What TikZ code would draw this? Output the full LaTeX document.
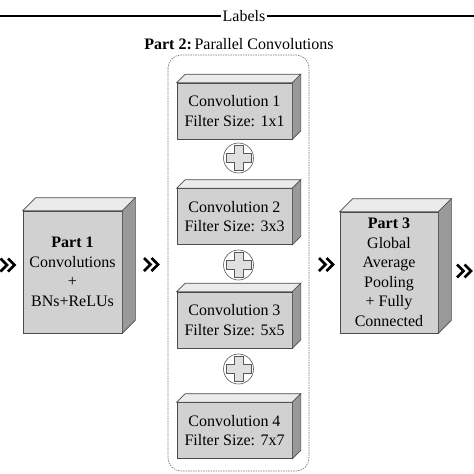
\documentclass[tikz,border=0pt]{standalone}
\usepackage{fontspec}
\setmainfont{Liberation Serif}
\usetikzlibrary{calc}
\tikzset{
  front/.style={draw=black!70, line width=0.6pt, fill=black!18, align=center, inner sep=0pt,
    font=\fontsize{16}{19.5}\selectfont},
  topface/.style={draw=black!70, line width=0.6pt, fill=black!8},
  sideface/.style={draw=black!70, line width=0.6pt, fill=black!40},
  plusring/.style={draw=black!65, line width=0.6pt, fill=white},
  plusshape/.style={draw=black!65, line width=0.6pt, fill=black!12},
  chev/.style={line width=2.6pt, line join=miter, line cap=butt},
  lbl/.style={font=\fontsize{16}{18}\selectfont, inner sep=1pt},
  groupbox/.style={draw=black!55, line width=0.6pt, dash pattern=on 1.5pt off 1pt, rounded corners=13pt}
}
\newcommand{\solidbox}[2]{%
  \filldraw[topface] (#1.north west) -- ++(#2,-#2) -- ($(#1.north east)+(#2,-#2)$) -- (#1.north east) -- cycle;
  \filldraw[sideface] (#1.north east) -- ++(#2,-#2) -- ($(#1.south east)+(#2,-#2)$) -- (#1.south east) -- cycle;
}
\newcommand{\plussign}[2]{% name, center
  \node[plusring, circle, minimum size=30pt, inner sep=0pt] (#1) at #2 {};
  \filldraw[plusshape] ($(#1.center)+(-4.5,-12.5)$) -- ++(9,0) -- ++(0,8) -- ++(8,0) -- ++(0,9) -- ++(-8,0)
     -- ++(0,8) -- ++(-9,0) -- ++(0,-8) -- ++(-8,0) -- ++(0,-9) -- ++(8,0) -- cycle;
}
\newcommand{\chevron}[2]{% name, left-center
  \coordinate (#1) at #2;
  \draw[chev] ($(#1)+(0,-6.5)$) -- ++(6.5,6.5) -- ++(-6.5,6.5);
  \draw[chev] ($(#1)+(7.5,-6.5)$) -- ++(6.5,6.5) -- ++(-6.5,6.5);
}
\begin{document}
\begin{tikzpicture}[x=1pt,y=-1pt]
\useasboundingbox (0,0) rectangle (474,474);
% header
\node[lbl] (labels) at (244,16) {Labels};
\draw[line width=1.3pt] (0,16) -- (labels.west);
\draw[line width=1.3pt] (labels.east) -- (474,16);
\node[lbl] (part2) at (239,44) {\textbf{Part 2:}\,Parallel Convolutions};
% group box
\draw[groupbox] (168,55) rectangle (309,471);
% convolution boxes
\node[front, minimum width=115pt, minimum height=56pt] (c1) at (234.5,111) {Convolution 1\\Filter Size: 1x1};
\solidbox{c1}{8.5}
\node[front, minimum width=115pt, minimum height=56pt] (c2) at (234.5,216.5) {Convolution 2\\Filter Size: 3x3};
\solidbox{c2}{8.5}
\node[front, minimum width=115pt, minimum height=56pt] (c3) at (234.5,320) {Convolution 3\\Filter Size: 5x5};
\solidbox{c3}{8.5}
\node[front, minimum width=115pt, minimum height=56pt] (c4) at (234.5,430.5) {Convolution 4\\Filter Size: 7x7};
\solidbox{c4}{8.5}
% plus signs
\plussign{p1}{(238.5,158)}
\plussign{p2}{(238.5,265)}
\plussign{p3}{(238.5,369)}
% part 1 and part 3
\node[front, minimum width=99pt, minimum height=122pt] (part1) at (72.5,272) {\textbf{Part 1}\\Convolutions\\+\\BNs+ReLUs};
\solidbox{part1}{13}
\node[front, minimum width=98pt, minimum height=121pt] (part3) at (389,272.5) {\textbf{Part 3}\\Global\\Average\\Pooling\\+ Fully\\Connected};
\solidbox{part3}{13}
% chevrons
\chevron{ch1}{(0.5,265)}
\chevron{ch2}{(144,264.5)}
\chevron{ch3}{(319,264.5)}
\chevron{ch4}{(457,271)}
\end{tikzpicture}
\end{document}
